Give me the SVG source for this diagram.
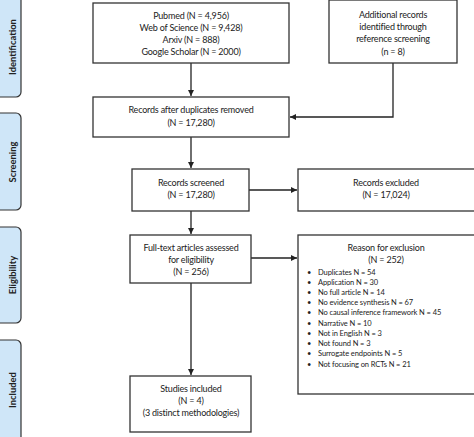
<svg xmlns="http://www.w3.org/2000/svg" width="474" height="437" viewBox="0 0 474 437">
<style>
.box{fill:#fff;stroke:#333;stroke-width:1.3}
.phase{fill:#cfe6f8;stroke:#333;stroke-width:1.2}
.t{font-family:Lato,"Open Sans","Liberation Sans",sans-serif;font-size:9px;letter-spacing:-0.2px;fill:#222;text-anchor:middle}
.b{font-family:Lato,"Open Sans","Liberation Sans",sans-serif;font-size:7.5px;letter-spacing:-0.1px;fill:#222}
.p{font-family:Lato,"Open Sans","Liberation Sans",sans-serif;font-size:9.4px;font-weight:bold;fill:#222;text-anchor:middle}
.c{fill:none;stroke:#222;stroke-width:1.3}
</style>
<defs>
<marker id="ah" markerWidth="8" markerHeight="8" refX="6" refY="3" orient="auto" markerUnits="userSpaceOnUse">
<path d="M0,0 L6,3 L0,6 Z" fill="#222"/>
</marker>
</defs>
<g id="phase-identification"><rect class="phase" x="-8" y="-6" width="29" height="103" rx="5"/><text class="p" transform="translate(15.5,47) rotate(-90)">Identification</text></g>
<g id="phase-screening"><rect class="phase" x="-8" y="113" width="29" height="97" rx="5"/><text class="p" transform="translate(15.5,162) rotate(-90)">Screening</text></g>
<g id="phase-eligibility"><rect class="phase" x="-8" y="227" width="29" height="96" rx="5"/><text class="p" transform="translate(15.5,275) rotate(-90)">Eligibility</text></g>
<g id="phase-included"><rect class="phase" x="-8" y="340" width="29" height="105" rx="5"/><text class="p" transform="translate(15.5,390) rotate(-90)">Included</text></g>

<g id="connectors">
<line class="c" x1="191" y1="63" x2="191" y2="96" marker-end="url(#ah)"/>
<polyline class="c" points="393,63 393,117 290,117" marker-end="url(#ah)"/>
<line class="c" x1="191" y1="137" x2="191" y2="168" marker-end="url(#ah)"/>
<line class="c" x1="249" y1="190" x2="297" y2="190" marker-end="url(#ah)"/>
<line class="c" x1="191" y1="211" x2="191" y2="234" marker-end="url(#ah)"/>
<line class="c" x1="251" y1="258" x2="297" y2="258" marker-end="url(#ah)"/>
<line class="c" x1="191" y1="283" x2="191" y2="375" marker-end="url(#ah)"/>
</g>

<g id="databases"><rect class="box" x="93" y="3" width="196" height="60"/>
<text class="t" x="191" y="19">Pubmed (N = 4,956)</text>
<text class="t" x="191" y="31">Web of Science (N = 9,428)</text>
<text class="t" x="191" y="43">Arxiv (N = 888)</text>
<text class="t" x="191" y="55">Google Scholar (N = 2000)</text></g>

<g id="additional"><rect class="box" x="329" y="0" width="128" height="63"/>
<text class="t" x="393" y="18">Additional records</text>
<text class="t" x="393" y="30">identified through</text>
<text class="t" x="393" y="42">reference screening</text>
<text class="t" x="393" y="55">(n = 8)</text></g>

<g id="deduplicated"><rect class="box" x="93" y="97" width="196" height="40"/>
<text class="t" x="191" y="113">Records after duplicates removed</text>
<text class="t" x="191" y="126">(N = 17,280)</text></g>

<g id="screened"><rect class="box" x="132" y="169" width="117" height="42"/>
<text class="t" x="191" y="186">Records screened</text>
<text class="t" x="191" y="198">(N = 17,280)</text></g>

<g id="excluded"><rect class="box" x="298" y="169" width="180" height="42"/>
<text class="t" x="386" y="186">Records excluded</text>
<text class="t" x="386" y="198">(N = 17,024)</text></g>

<g id="fulltext"><rect class="box" x="130" y="235" width="121" height="48"/>
<text class="t" x="191" y="251">Full-text articles assessed</text>
<text class="t" x="191" y="263">for eligibility</text>
<text class="t" x="191" y="275">(N = 256)</text></g>

<g id="reasons"><rect class="box" x="298" y="235" width="180" height="159"/>
<text class="t" x="386" y="251">Reason for exclusion</text>
<text class="t" x="386" y="263">(N = 252)</text>
<g class="b">
<text x="307" y="275">•</text><text x="318" y="275">Duplicates N = 54</text>
<text x="307" y="285">•</text><text x="318" y="285">Application N = 30</text>
<text x="307" y="295">•</text><text x="318" y="295">No full article N = 14</text>
<text x="307" y="305">•</text><text x="318" y="305">No evidence synthesis N = 67</text>
<text x="307" y="315">•</text><text x="318" y="315">No causal inference framework N = 45</text>
<text x="307" y="326">•</text><text x="318" y="326">Narrative N = 10</text>
<text x="307" y="336">•</text><text x="318" y="336">Not in English N = 3</text>
<text x="307" y="346">•</text><text x="318" y="346">Not found N = 3</text>
<text x="307" y="356">•</text><text x="318" y="356">Surrogate endpoints N = 5</text>
<text x="307" y="367">•</text><text x="318" y="367">Not focusing on RCTs N = 21</text>
</g></g>

<g id="included"><rect class="box" x="130" y="376" width="121" height="56"/>
<text class="t" x="191" y="392">Studies included</text>
<text class="t" x="191" y="404">(N = 4)</text>
<text class="t" x="191" y="416">(3 distinct methodologies)</text></g>
</svg>
